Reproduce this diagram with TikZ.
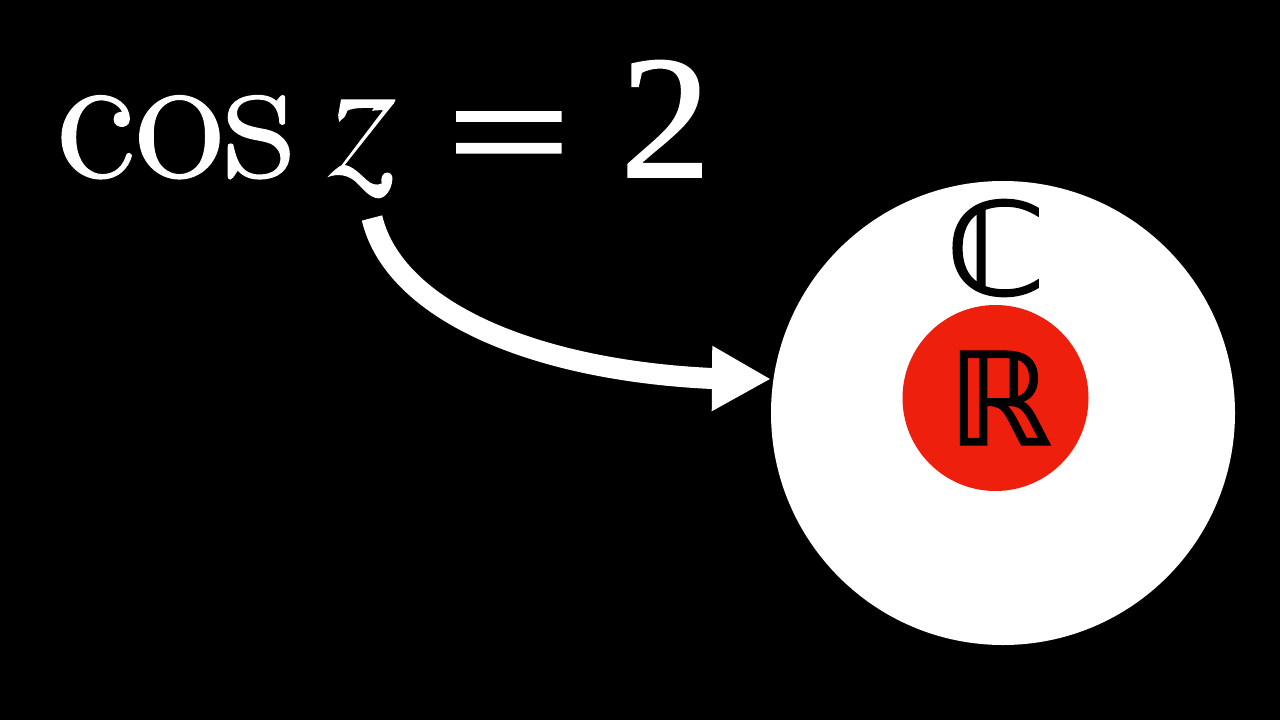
\documentclass[tikz,border=0pt]{standalone}
\usepackage{fontspec}
\usepackage{graphicx}
\usetikzlibrary{arrows.meta}
\newfontfamily\cosfont[FakeBold=1.2]{Latin Modern Roman}
\newfontfamily\barfont[FakeBold=1.8]{Liberation Serif}
\newfontfamily\zfont[FakeBold=1]{Liberation Serif}
\newfontfamily\dbl[FakeBold=1.2]{DejaVu Sans}
\definecolor{redfill}{HTML}{EE1F0C}
\tikzset{
  eqtext/.style={text=white,inner sep=0pt,anchor=base west,font=\zfont\fontsize{176}{176}\selectfont},
  setlabel/.style={text=black,inner sep=0pt,anchor=center,font=\dbl\fontsize{120}{120}\selectfont},
  disc/.style={circle,inner sep=0pt},
  bigarrow/.style={draw=white,line width=21pt,-{Triangle[length=59pt,width=61pt,fill=white]}}
}
\begin{document}
\begin{tikzpicture}[x=1pt,y=-1pt]
\useasboundingbox[fill=black] (0,0) rectangle (1280,720);
\node[eqtext,font=\cosfont\fontsize{178}{178}\selectfont] (cos) at (56,177) {\scalebox{1.09}[1.03]{cos}};
\begin{scope}
\clip (335,98) -- (400,98) -- (395,101.7) -- (344,166) -- (341.7,165) -- (383.3,110) -- (350,111.7) -- (339.3,121.7) -- cycle;
\node[eqtext] (z) at (328,181) {\itshape z};
\end{scope}
\fill[white] (327.3,177.3) .. controls (333,171) and (338,167) .. (342,165)
  -- (344.5,165)
  .. controls (352,166) and (358,172) .. (366.7,180)
  .. controls (371,184) and (376,186) .. (381.7,183.5)
  .. controls (380,178) and (383,172.5) .. (387,172.5)
  .. controls (391,172.5) and (393,176) .. (392.3,180)
  .. controls (391.5,190) and (385,198.5) .. (378.3,198.3)
  .. controls (370,198) and (363,189) .. (356,182)
  .. controls (348,175) and (338,173) .. cycle;
\node[eqtext,font=\barfont\fontsize{176}{176}\selectfont] (eq) at (447,185) {\scalebox{1.24}[0.9]{=}};
\node[eqtext] (two) at (620,177) {\scalebox{1.03}[1]{2}};
\node[disc,fill=white,minimum size=464pt] (cplane) at (1003,413) {};
\node[disc,fill=redfill,minimum size=186pt] (rline) at (995.5,398) {};
\node[setlabel] (clabel) at (995.5,248) {\scalebox{1.2}[1.07]{ℂ}};
\node[setlabel] (rlabel) at (1000,398) {\scalebox{1.1}[1.07]{ℝ}};
\coordinate (start) at (372,218);
\coordinate (bend) at (712,378.5);
\coordinate (tip) at (771,379);
\draw[bigarrow] (start) .. controls (394,310) and (532,370) .. (bend) -- (tip);
\end{tikzpicture}
\end{document}
